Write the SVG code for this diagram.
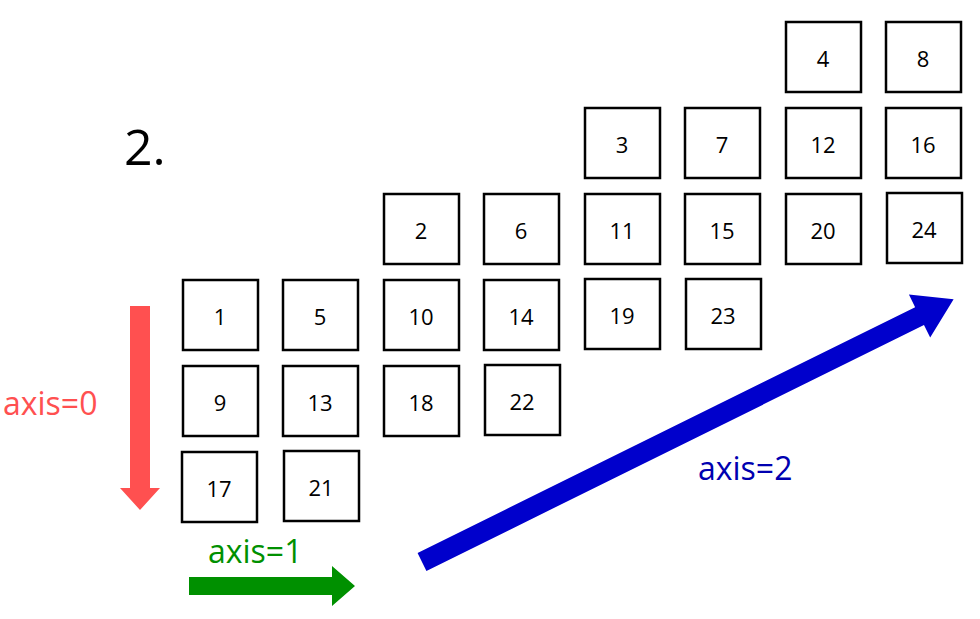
<svg xmlns="http://www.w3.org/2000/svg" width="980" height="619" viewBox="0 0 980 619">
<style>
.b rect{fill:#fff;stroke:#000;stroke-width:2.5}
.b text{font-family:"Open Sans","Liberation Sans",sans-serif;font-size:22px;text-anchor:middle;dominant-baseline:central}
.l{font-family:"Open Sans","Liberation Sans",sans-serif;font-size:32px}
</style>
<rect width="980" height="619" fill="#fff"/>
<text x="124" y="165" font-family="Open Sans,Liberation Sans,sans-serif" font-size="50">2.</text>
<g class="b">
<g id="n4"><rect x="786" y="22" width="75" height="70"/><text x="823" y="58">4</text></g>
<g id="n8"><rect x="886" y="22" width="75" height="70"/><text x="923" y="58">8</text></g>
<g id="n3"><rect x="585" y="108" width="75" height="70"/><text x="622" y="144">3</text></g>
<g id="n7"><rect x="685" y="108" width="75" height="70"/><text x="722" y="144">7</text></g>
<g id="n12"><rect x="786" y="108" width="75" height="70"/><text x="823" y="144">12</text></g>
<g id="n16"><rect x="886" y="108" width="75" height="70"/><text x="923" y="144">16</text></g>
<g id="n2"><rect x="384" y="194" width="75" height="70"/><text x="421" y="230">2</text></g>
<g id="n6"><rect x="484" y="194" width="75" height="70"/><text x="521" y="230">6</text></g>
<g id="n11"><rect x="585" y="194" width="75" height="70"/><text x="622" y="230">11</text></g>
<g id="n15"><rect x="685" y="194" width="75" height="70"/><text x="722" y="230">15</text></g>
<g id="n20"><rect x="786" y="194" width="75" height="70"/><text x="823" y="230">20</text></g>
<g id="n24"><rect x="887" y="193" width="75" height="70"/><text x="924" y="229">24</text></g>
<g id="n1"><rect x="183" y="280" width="75" height="70"/><text x="220" y="316">1</text></g>
<g id="n5"><rect x="283" y="280" width="75" height="70"/><text x="320" y="316">5</text></g>
<g id="n10"><rect x="384" y="280" width="75" height="70"/><text x="421" y="316">10</text></g>
<g id="n14"><rect x="484" y="280" width="75" height="70"/><text x="521" y="316">14</text></g>
<g id="n19"><rect x="585" y="279" width="75" height="70"/><text x="622" y="315">19</text></g>
<g id="n23"><rect x="686" y="279" width="75" height="70"/><text x="723" y="315">23</text></g>
<g id="n9"><rect x="183" y="366" width="75" height="70"/><text x="220" y="402">9</text></g>
<g id="n13"><rect x="283" y="366" width="75" height="70"/><text x="320" y="402">13</text></g>
<g id="n18"><rect x="384" y="366" width="75" height="70"/><text x="421" y="402">18</text></g>
<g id="n22"><rect x="485" y="365" width="75" height="70"/><text x="522" y="401">22</text></g>
<g id="n17"><rect x="182" y="452" width="75" height="70"/><text x="219" y="488">17</text></g>
<g id="n21"><rect x="284" y="451" width="75" height="70"/><text x="321" y="487">21</text></g>
</g>
<g id="connectors">
<polygon fill="#FF5050" points="130,306 150,306 150,488 160,488 140,510 120,488 130,488"/>
<polygon fill="#009000" points="189,577 332,577 332,566 355,586 332,606 332,595 189,595"/>
<g transform="translate(422,562) rotate(-26.3)">
<polygon fill="#0000CC" points="0,-10 555,-10 555,-24 593,0 555,24 555,10 0,10"/>
</g>
</g>
<text class="l" x="3" y="415" fill="#FF5050">axis=0</text>
<text class="l" x="208" y="563" fill="#009000">axis=1</text>
<text class="l" x="698" y="480" fill="#0000B0">axis=2</text>
</svg>
